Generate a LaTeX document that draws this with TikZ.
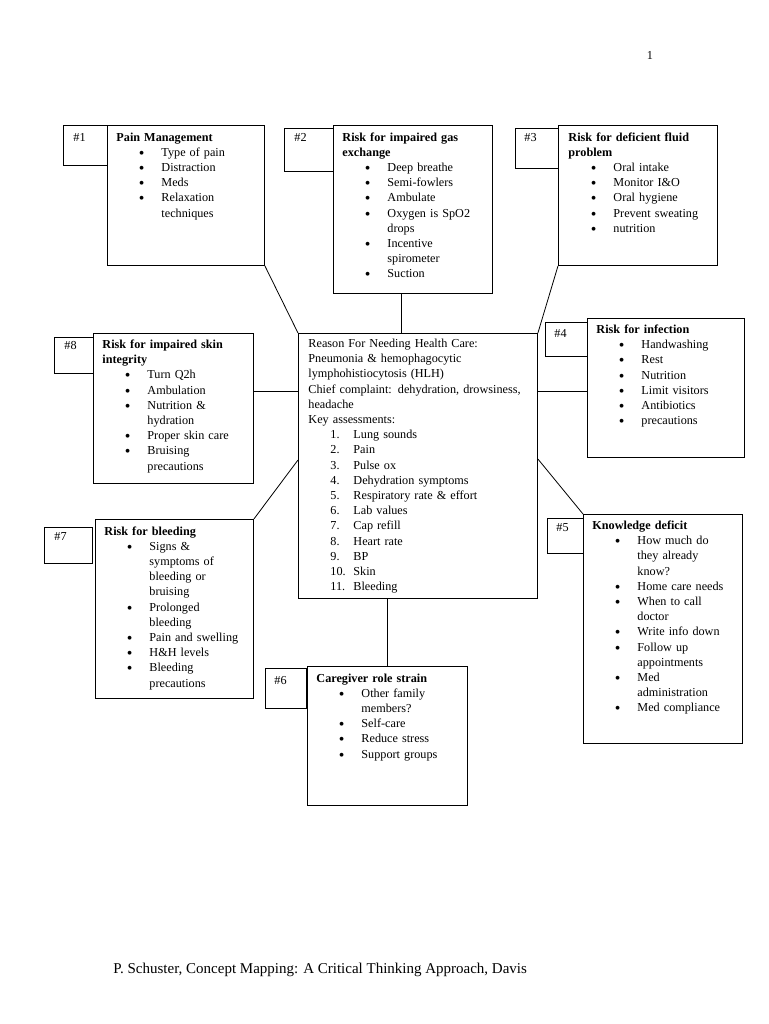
\documentclass[tikz,border=0pt]{standalone}
\usepackage{fontspec}
\setmainfont{Liberation Serif}
\newcommand{\boxfont}{\fontsize{12.2}{15.2}\selectfont}
\newcommand{\dotmark}{\raisebox{-2pt}{\fontsize{16}{16}\selectfont\textbullet}}
\newenvironment{dotlist}{\begin{list}{\dotmark}{\setlength{\leftmargin}{45pt}\setlength{\labelwidth}{10pt}\setlength{\labelsep}{17pt}%
  \setlength{\topsep}{0pt}\setlength{\partopsep}{0pt}\setlength{\itemsep}{0pt}\setlength{\parsep}{0pt}}}{\end{list}}
\newenvironment{numlist}{\begin{list}{}{\setlength{\leftmargin}{45pt}\setlength{\labelwidth}{23pt}\setlength{\labelsep}{0pt}%
  \setlength{\topsep}{0pt}\setlength{\partopsep}{0pt}\setlength{\itemsep}{0pt}\setlength{\parsep}{0pt}\def\makelabel##1{##1\hfil}}}{\end{list}}
\begin{document}
\begin{tikzpicture}[x=1pt, y=-1pt, line width=0.9pt,
    box/.style={draw, anchor=north west, inner sep=0pt},
    txt/.style={anchor=north west, inner sep=0pt, align=left, font=\boxfont},
    link/.style={line width=0.8pt}]
  \fill[white] (0,0) rectangle (768,1024);
  \useasboundingbox (0,0) rectangle (768,1024);
  \node[font=\boxfont] (page) at (650,55) {1};
  % centre
  \node[box, minimum width=239, minimum height=265] (c) at (298,333) {};
  \node[txt, text width=229] (ct) at ([shift={(10,3.5)}]c.north west) {\strut Reason For Needing Health Care:\\
    Pneumonia \& hemophagocytic\\
    lymphohistiocytosis (HLH)\\
    Chief complaint: dehydration, drowsiness,\\
    headache\\
    Key assessments:
    \begin{numlist}
      \item[1.] Lung sounds
      \item[2.] Pain
      \item[3.] Pulse ox
      \item[4.] Dehydration symptoms
      \item[5.] Respiratory rate \& effort
      \item[6.] Lab values
      \item[7.] Cap refill
      \item[8.] Heart rate
      \item[9.] BP
      \item[10.] Skin
      \item[11.] Bleeding
    \end{numlist}};
  % #1
  \node[box, minimum width=157, minimum height=140] (b1) at (107,125) {};
  \node[box, minimum width=44, minimum height=40] (n1) at (63,125) {};
  \node[txt] (h1) at ([shift={(10,5)}]n1.north west) {\strut\#1};
  \node[txt, text width=150] (t1) at ([shift={(9,5)}]b1.north west) {\strut\textbf{Pain Management}
    \begin{dotlist}
      \item Type of pain
      \item Distraction
      \item Meds
      \item Relaxation\\techniques
    \end{dotlist}};
  % #2
  \node[box, minimum width=159, minimum height=168] (b2) at (333,125) {};
  \node[box, minimum width=49, minimum height=43] (n2) at (284,128) {};
  \node[txt] (h2) at ([shift={(10,2)}]n2.north west) {\strut\#2};
  \node[txt, text width=152] (t2) at ([shift={(9,5)}]b2.north west) {\strut\textbf{Risk for impaired gas}\\\textbf{exchange}
    \begin{dotlist}
      \item Deep breathe
      \item Semi-fowlers
      \item Ambulate
      \item Oxygen is SpO2\\drops
      \item Incentive\\spirometer
      \item Suction
    \end{dotlist}};
  % #3
  \node[box, minimum width=159, minimum height=140] (b3) at (558,125) {};
  \node[box, minimum width=43, minimum height=40] (n3) at (515,128) {};
  \node[txt] (h3) at ([shift={(9,2)}]n3.north west) {\strut\#3};
  \node[txt, text width=152] (t3) at ([shift={(10,5)}]b3.north west) {\strut\textbf{Risk for deficient fluid}\\\textbf{problem}
    \begin{dotlist}
      \item Oral intake
      \item Monitor I\&O
      \item Oral hygiene
      \item Prevent sweating
      \item nutrition
    \end{dotlist}};
  % #4
  \node[box, minimum width=157, minimum height=139] (b4) at (587,318) {};
  \node[box, minimum width=42, minimum height=34] (n4) at (545,322) {};
  \node[txt] (h4) at ([shift={(9,4)}]n4.north west) {\strut\#4};
  \node[txt, text width=150] (t4) at ([shift={(9,4.5)}]b4.north west) {\strut\textbf{Risk for infection}
    \begin{dotlist}
      \item Handwashing
      \item Rest
      \item Nutrition
      \item Limit visitors
      \item Antibiotics
      \item precautions
    \end{dotlist}};
  % #5
  \node[box, minimum width=159, minimum height=229] (b5) at (583,514) {};
  \node[box, minimum width=36, minimum height=35] (n5) at (547,518) {};
  \node[txt] (h5) at ([shift={(9,2)}]n5.north west) {\strut\#5};
  \node[txt, text width=152] (t5) at ([shift={(9,4.5)}]b5.north west) {\strut\textbf{Knowledge deficit}
    \begin{dotlist}
      \item How much do\\they already\\know?
      \item Home care needs
      \item When to call\\doctor
      \item Write info down
      \item Follow up\\appointments
      \item Med\\administration
      \item Med compliance
    \end{dotlist}};
  % #6
  \node[box, minimum width=160, minimum height=139] (b6) at (307,666) {};
  \node[box, minimum width=41, minimum height=40] (n6) at (265,668) {};
  \node[txt] (h6) at ([shift={(9,5)}]n6.north west) {\strut\#6};
  \node[txt, text width=153] (t6) at ([shift={(9,5)}]b6.north west) {\strut\textbf{Caregiver role strain}
    \begin{dotlist}
      \item Other family\\members?
      \item Self-care
      \item Reduce stress
      \item Support groups
    \end{dotlist}};
  % #7
  \node[box, minimum width=158, minimum height=179] (b7) at (95,519) {};
  \node[box, minimum width=48, minimum height=36] (n7) at (44,527) {};
  \node[txt] (h7) at ([shift={(10,2)}]n7.north west) {\strut\#7};
  \node[txt, text width=151] (t7) at ([shift={(9,5)}]b7.north west) {\strut\textbf{Risk for bleeding}
    \begin{dotlist}
      \item Signs \&\\symptoms of\\bleeding or\\bruising
      \item Prolonged\\bleeding
      \item Pain and swelling
      \item H\&H levels
      \item Bleeding\\precautions
    \end{dotlist}};
  % #8
  \node[box, minimum width=160, minimum height=150] (b8) at (93,333) {};
  \node[box, minimum width=39, minimum height=36] (n8) at (54,337) {};
  \node[txt] (h8) at ([shift={(10,1)}]n8.north west) {\strut\#8};
  \node[txt, text width=153] (t8) at ([shift={(9,4.5)}]b8.north west) {\strut\textbf{Risk for impaired skin}\\\textbf{integrity}
    \begin{dotlist}
      \item Turn Q2h
      \item Ambulation
      \item Nutrition \&\\hydration
      \item Proper skin care
      \item Bruising\\precautions
    \end{dotlist}};
  % links
  \draw[link] (b1.south east) -- (c.north west);
  \draw[link] ([xshift=-12pt]b2.south) -- ([xshift=-12pt]b2.south |- c.north);
  \draw[link] (b3.south west) -- (c.north east);
  \draw[link] ([yshift=-58pt]c.north east) -- ([yshift=-58pt]c.north east -| b4.west);
  \draw[link] ([yshift=-126pt]c.north east) -- (b5.north west);
  \draw[link] (b6.north) -- (b6.north |- c.south);
  \draw[link] ([yshift=-127pt]c.north west) -- (b7.north east);
  \draw[link] ([yshift=-58pt]c.north west) -- ([yshift=-58pt]c.north west -| b8.east);
  \node[anchor=base west, inner sep=0pt, font=\fontsize{15}{18}\selectfont] (src) at (113,973) {P. Schuster, Concept Mapping: A Critical Thinking Approach, Davis};
\end{tikzpicture}
\end{document}
